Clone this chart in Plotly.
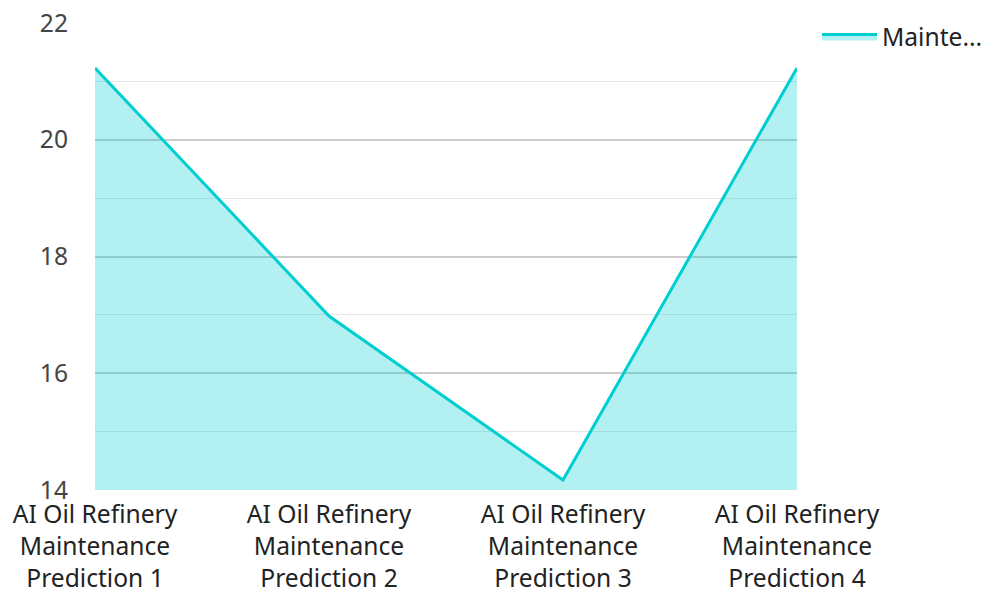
import plotly.graph_objects as go

categories = [
    "AI Oil Refinery<br>Maintenance<br>Prediction 1",
    "AI Oil Refinery<br>Maintenance<br>Prediction 2",
    "AI Oil Refinery<br>Maintenance<br>Prediction 3",
    "AI Oil Refinery<br>Maintenance<br>Prediction 4",
]
values = [21.23, 16.98, 14.17, 21.23]
series_name = "Mainte..."
y_ticks = [14, 16, 18, 20, 22]

fig = go.Figure()
fig.add_trace(go.Scatter(
    x=categories, y=values, name=series_name, mode="lines",
    line=dict(color="#00CED1", width=3),
    fill="tozeroy", fillcolor="rgba(0,206,209,0.3)",
    showlegend=True,
))

fig.update_layout(
    width=983, height=594,
    margin=dict(l=95, r=186, t=23, b=104, autoexpand=False),
    paper_bgcolor="white", plot_bgcolor="white",
    font=dict(family="Noto Sans", size=24.6, color="#333333"),
    showlegend=True,
    legend=dict(x=1.0285, y=1.019, xanchor="left", yanchor="top",
                font=dict(size=24.6, color="#222222"),
                bgcolor="rgba(0,0,0,0)", itemwidth=55),
    xaxis=dict(range=[0, 3], showgrid=False, zeroline=False, automargin=False,
               showline=False, ticks="", tickangle=0, ticklabelstandoff=7,
               tickfont=dict(size=24.6, color="#222222")),
    yaxis=dict(range=[14, 22], tickvals=y_ticks, showgrid=True, automargin=False,
               gridcolor="#cccccc", gridwidth=1.5, zeroline=False,
               showline=False, ticks="", ticklabelstandoff=26,
               tickfont=dict(size=24.6, color="#444444"),
               minor=dict(dtick=1, showgrid=True, gridcolor="#e6e6e6", gridwidth=1)),
)

fig.write_html("out.html")
